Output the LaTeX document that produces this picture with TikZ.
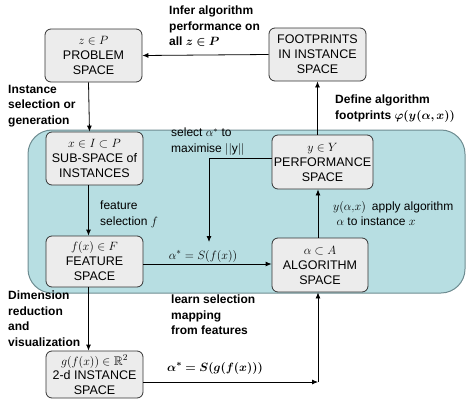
\documentclass[tikz,border=0pt]{standalone}
\usepackage{amsmath,amssymb,bm}
\usepackage{fontspec}
\setmainfont{Liberation Sans}
\usetikzlibrary{arrows.meta}
\definecolor{teal1}{RGB}{183,222,226}
\definecolor{tealline}{RGB}{110,140,145}
\definecolor{boxfill}{RGB}{236,236,236}
\tikzset{
  box/.style={draw=black!80, fill=boxfill, rounded corners=6pt, align=center,
    minimum width=97pt, minimum height=53pt, inner sep=1pt, line width=0.8pt,
    font=\fontsize{12.5}{15}\selectfont},
  lbl/.style={anchor=north west, align=left, inner sep=0pt,
    font=\bfseries\fontsize{12}{15.5}\selectfont},
  txt/.style={anchor=north west, align=left, inner sep=0pt,
    font=\fontsize{12}{15.5}\selectfont},
  eqn/.style={inner sep=0pt, font=\fontsize{13}{15}\selectfont},
  arr/.style={-{Latex[length=6pt,width=5pt]}, line width=0.8pt}
}
\begin{document}
\begin{tikzpicture}[x=1pt,y=-1pt]
\useasboundingbox (0,0) rectangle (474,410);
% shaded region
\draw[fill=teal1, draw=tealline, line width=1pt, rounded corners=24pt] (28,130) rectangle (465,293);
% spaces
\node[box] (prob) at (93.5,55.5) {$z\in P$\\PROBLEM\\SPACE};
\node[box] (foot) at (317.5,54.5) {FOOTPRINTS\\IN INSTANCE\\SPACE};
\node[box] (sub) at (94.5,158.5) {$x\in I\subset P$\\SUB-SPACE of\\INSTANCES};
\node[box, minimum width=101pt, minimum height=54pt] (perf) at (322.5,162) {$y\in Y$\\PERFORMANCE\\SPACE};
\node[box, minimum height=51pt] (feat) at (94.5,261.5) {$f(x)\in F$\\FEATURE\\SPACE};
\node[box, minimum width=96pt, minimum height=54pt] (alg) at (320,265) {$\alpha\subset A$\\ALGORITHM\\SPACE};
\node[box, minimum height=47pt, font=\fontsize{12.5}{14.5}\selectfont] (inst) at (94.5,374.5) {$g(f(x))\in\mathbb{R}^2$\\2-d INSTANCE\\SPACE};
% labels
\node[lbl] (infer) at (169,6) {Infer algorithm\\performance on\\all $\bm{z\in P}$};
\node[lbl] (isel) at (8,85) {Instance\\selection or\\generation};
\node[lbl] (defn) at (335,95) {Define algorithm\\footprints $\bm{\varphi(y(\alpha,x))}$};
\node[txt] (smax) at (171,128) {select $\alpha^*$ to\\maximise $||$y$||$};
\node[txt] (fsel) at (100,201) {feature\\selection $f$};
\node[txt] (appl) at (333,201) {$y(\alpha{,}x)$\enspace apply algorithm\\\ $\alpha$ to instance $x$};
\node[eqn] (sf) at (203,256) {$\alpha^* = S(f(x))$};
\node[lbl] (dimr) at (8,291) {Dimension\\reduction\\and\\visualization};
\node[lbl] (lrn) at (171,295) {learn selection\\mapping\\from features};
\node[eqn] (sg) at (215,368) {$\bm{\alpha^* = S(g(f(x)))}$};
% connectors
\coordinate (selpt) at (209,242);
\coordinate (corner) at (318,382);
\draw[arr] (foot.west) -- (prob.east);
\draw[arr] ([xshift=-5pt]prob.south) -- ([xshift=-5pt]sub.north);
\draw[arr] ([xshift=-6pt]sub.south) -- ([xshift=-6pt]feat.north);
\draw[arr] ([xshift=-6pt]feat.south) -- ([xshift=-6pt]inst.north);
\draw[arr] (perf.north -| foot.south) -- (foot.south);
\draw[arr] ([yshift=4pt]perf.west) -| (selpt);
\draw[arr] ([yshift=-2.5pt]feat.east) -- ([yshift=-2.5pt]feat.east -| alg.west);
\draw[arr] (alg.north -| corner) -- (perf.south -| corner);
\draw[arr] (inst.east |- corner) -- (corner);
\draw[arr] (corner) -- (alg.south -| corner);
\end{tikzpicture}
\end{document}
